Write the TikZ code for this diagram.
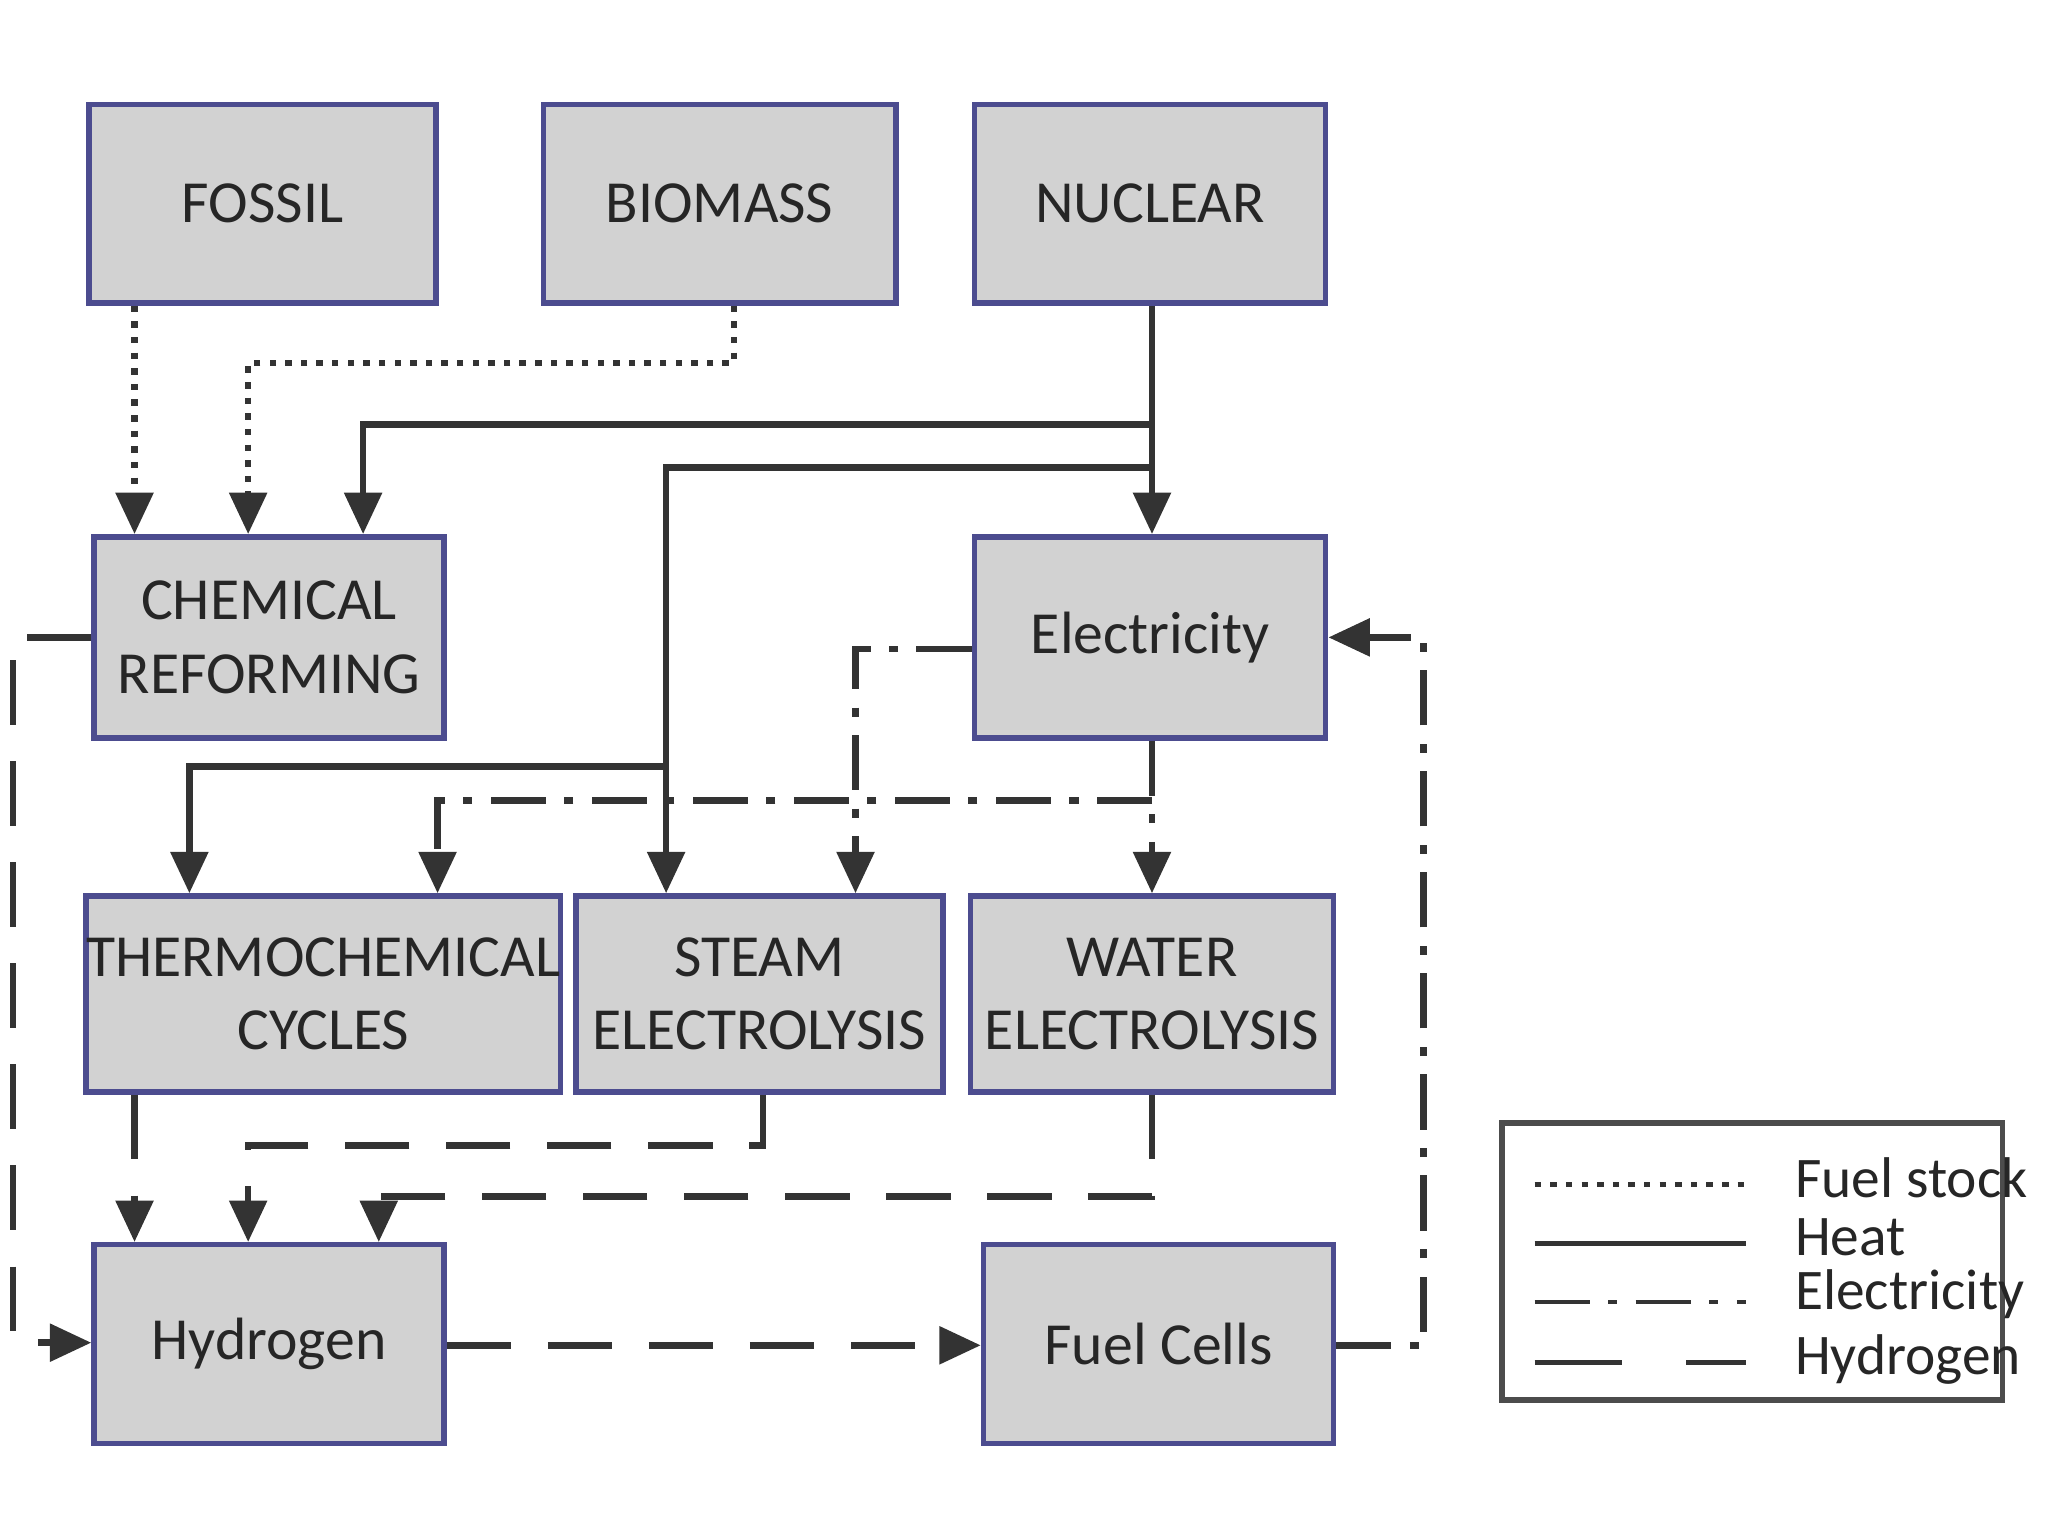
\documentclass[tikz,border=0pt]{standalone}
\usepackage{fontspec}
\setmainfont{Carlito}
\usetikzlibrary{arrows.meta}
\begin{document}
\begin{tikzpicture}[x=0.01cm,y=-0.01cm,
 box/.style={draw=black!35!blue!40!gray,line width=1.2pt,fill=gray!35,inner sep=0pt,align=center,font=\fontsize{13}{16}\selectfont,text=black!85},
 ln/.style={line width=1.4pt,draw=black!80},
 arr/.style={-{Triangle[length=9pt,width=8pt]}},
 fuel/.style={ln,dotted},
 heat/.style={ln},
 elec/.style={ln,dash pattern=on 12pt off 4pt on 2pt off 4pt},
 hyd/.style={ln,dash pattern=on 14pt off 8pt}]
\useasboundingbox (0,0) rectangle (1568,1176);
\newcommand{\bx}[5]{\node[box,minimum width={(#4-#2)*0.01cm},minimum height={(#5-#3)*0.01cm}] (#1) at ({(#2+#4)/2},{(#3+#5)/2})}
\bx{fos}{68}{80}{334}{232} {FOSSIL};
\bx{bio}{416}{80}{686}{232} {BIOMASS};
\bx{nuc}{746}{80}{1015}{232} {NUCLEAR};
\bx{chem}{72}{411}{340}{565} {CHEMICAL\\REFORMING};
\bx{ele}{746}{411}{1015}{565} {Electricity};
\bx{thc}{72}{686}{423}{836} {THERMOCHEMICAL\\CYCLES};
\bx{ste}{441}{686}{722}{836} {STEAM\\ELECTROLYSIS};
\bx{wat}{743}{686}{1021}{836} {WATER\\ELECTROLYSIS};
\bx{hyd}{72}{953}{340}{1105} {Hydrogen};
\bx{fc}{753}{953}{1021}{1105} {Fuel Cells};
% fuel stock
\draw[fuel,arr] (fos.south -| 103,0) -- (chem.north -| 103,0);
\draw[fuel,arr] (bio.south -| 562,0) -- (562,278) -- (190,278) -- (chem.north -| 190,0);
% heat
\draw[heat,arr] (nuc.south -| 882,0) -- (ele.north -| 882,0);
\draw[heat,arr] (882,325) -- (278,325) -- (chem.north -| 278,0);
\draw[heat,arr] (882,358) -- (510,358) -- (ste.north -| 510,0);
\draw[heat,arr] (510,587) -- (145,587) -- (thc.north -| 145,0);
% electricity
\draw[elec,arr] (ele.west |- 0,497) -- (655,497) -- (ste.north -| 655,0);
\draw[elec] (ele.south -| 882,0) -- (882,650);
\draw[heat,arr] (882,650) -- (wat.north -| 882,0);
\draw[elec,arr] (882,613) -- (335,613) -- (thc.north -| 335,0);
\draw[elec,arr] (fc.east |- 0,1030) -- (1090,1030) -- (1090,488) -- (ele.east |- 0,488);
% hydrogen
\draw[hyd,arr] (chem.west |- 0,488) -- (10,488) -- (10,1028) -- (hyd.west |- 0,1028);
\draw[hyd,arr] (thc.south -| 103,0) -- (hyd.north -| 103,0);
\draw[hyd,arr] (ste.south -| 584,0) -- (584,877) -- (190,877) -- (hyd.north -| 190,0);
\draw[hyd,arr] (wat.south -| 882,0) -- (882,916) -- (290,916) -- (hyd.north -| 290,0);
\draw[hyd,arr] (hyd.east |- 0,1030) -- (fc.west |- 0,1030);
% legend
\node[draw=black!70,line width=1.2pt,minimum width=3.83cm,minimum height=2.12cm] (leg) at (1341.5,966) {};
\begin{scope}[every node/.style={anchor=west,font=\fontsize{12.5}{15}\selectfont,text=black!85}]
\coordinate (l1a) at (1175,907); \coordinate (l1b) at (1337,907);
\coordinate (l2a) at (1175,952); \coordinate (l2b) at (1337,952);
\coordinate (l3a) at (1175,997); \coordinate (l3b) at (1337,997);
\coordinate (l4a) at (1175,1043); \coordinate (l4b) at (1337,1043);
\draw[fuel,line width=1pt] (l1a) -- (l1b);
\draw[heat,line width=1pt] (l2a) -- (l2b);
\draw[elec,line width=1pt] (l3a) -- (l3b);
\draw[line width=1pt,draw=black!80,dash pattern=on 19pt off 14pt] (l4a) -- (l4b);
\node (t1) at (1362,902) {Fuel stock};
\node (t2) at (1362,947) {Heat};
\node (t3) at (1362,991) {Electricity};
\node (t4) at (1362,1041) {Hydrogen};
\end{scope}
\end{tikzpicture}
\end{document}
